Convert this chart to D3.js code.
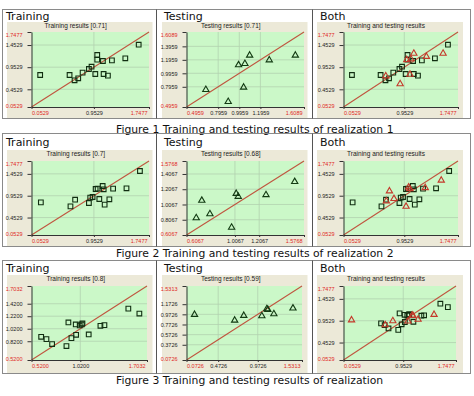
<!DOCTYPE html>
<html>
<head>
<meta charset="utf-8">
<script src="https://cdn.jsdelivr.net/npm/d3@7"></script>
<style>
	body { margin: 0; background: #fff; }
	svg { display: block; }
</style>
</head>
<body>
<script>
const panelNames = ["Training", "Testing", "Both"];
const captions = [
	"Figure 1 Training and testing results of realization 1",
	"Figure 2 Training and testing results of realization 2",
	"Figure 3 Training and testing results of realization",
];
const chartTitles = [
	["Training results [0.71]", "Testing results [0.71]", "Training and testing results"],
	["Training results [0.7]", "Testing results [0.68]", "Training and testing results"],
	["Training results [0.8]", "Testing results [0.59]", "Training and testing results"],
];

// axis ranges (min and max are the red labels)
const fullDomain = [0.0529, 1.7477];
const test1Domain = [0.4959, 1.6089];
const test2Domain = [0.6067, 1.5768];
const train3Domain = [0.52, 1.7032];
const test3Domain = [0.0726, 1.5313];

// inner tick labels
const fullYTicks = [0.4529, 0.9529, 1.4529];
const fullXTicks = [0.9529];
const test1YTicks = [0.7959, 0.9959, 1.1959, 1.3959];
const test1XTicks = [0.7959, 0.9959, 1.1959];
const test2YTicks = [0.8067, 1.0067, 1.2067, 1.4067];
const test2XTicks = [1.0067, 1.2067];
const train3YTicks = [0.82, 1.02, 1.22, 1.42];
const train3XTicks = [1.02];
const test3YTicks = [0.3726, 0.5726, 0.7726, 0.9726, 1.1726];
const test3XTicks = [0.4726, 0.9726];

// [measured, predicted]
const train1 = [[0.178, 0.776], [0.602, 0.776], [0.674, 0.656], [0.727, 0.701], [0.790, 0.829], [0.881, 0.912], [0.919, 0.964], [0.973, 0.799], [1.001, 1.228], [1.001, 1.122], [1.083, 1.092], [1.093, 0.799], [1.155, 0.761], [1.213, 1.107], [1.406, 1.153], [1.599, 1.461]];
const test1 = [[0.679, 0.753], [0.891, 0.575], [0.989, 1.119], [1.049, 1.139], [1.037, 0.788], [1.094, 1.263], [1.280, 1.193], [1.527, 1.263]];
const train2 = [[0.188, 0.801], [0.615, 0.709], [0.682, 0.862], [0.881, 0.786], [0.900, 0.908], [0.934, 0.923], [0.978, 1.106], [1.007, 1.114], [1.031, 0.877], [1.079, 1.175], [1.094, 1.099], [1.108, 0.748], [1.176, 0.870], [1.230, 1.114], [1.423, 1.122], [1.617, 1.519]];
const test2 = [[0.687, 0.831], [0.733, 1.059], [0.800, 0.883], [0.979, 0.706], [1.017, 1.150], [1.034, 1.111], [1.263, 1.133], [1.500, 1.305]];
const train3 = [[0.619, 0.891], [0.673, 0.854], [0.731, 0.775], [0.878, 0.743], [0.898, 1.120], [0.929, 0.870], [0.977, 0.923], [0.973, 1.088], [1.014, 1.072], [1.035, 1.088], [1.042, 1.104], [1.106, 0.929], [1.226, 1.067], [1.267, 1.077], [1.512, 1.342], [1.625, 1.263]];
const test3 = [[0.174, 0.968], [0.681, 0.855], [0.796, 0.948], [1.024, 0.941], [1.087, 1.080], [1.100, 1.067], [1.176, 0.981], [1.417, 1.093]];

const panels = [
	[
		{ domain: fullDomain, xTicks: fullXTicks, yTicks: fullYTicks, train: train1, test: null },
		{ domain: test1Domain, xTicks: test1XTicks, yTicks: test1YTicks, train: null, test: test1 },
		{ domain: fullDomain, xTicks: fullXTicks, yTicks: fullYTicks, train: train1, test: test1 },
	],
	[
		{ domain: fullDomain, xTicks: fullXTicks, yTicks: fullYTicks, train: train2, test: null },
		{ domain: test2Domain, xTicks: test2XTicks, yTicks: test2YTicks, train: null, test: test2 },
		{ domain: fullDomain, xTicks: fullXTicks, yTicks: fullYTicks, train: train2, test: test2 },
	],
	[
		{ domain: train3Domain, xTicks: train3XTicks, yTicks: train3YTicks, train: train3, test: null },
		{ domain: test3Domain, xTicks: test3XTicks, yTicks: test3YTicks, train: null, test: test3 },
		{ domain: fullDomain, xTicks: fullXTicks, yTicks: fullYTicks, train: train3, test: test3 },
	],
];

const rowLayout = [
	{ boxTop: 9.5, boxBot: 118.5, titleY: 19.5, beigeTop: 22, plotTop: 32, plotBot: 107, beigeBot: 118, capY: 132.5, plotShrink: 0 },
	{ boxTop: 133.5, boxBot: 246.5, titleY: 145.5, beigeTop: 150, plotTop: 161, plotBot: 235, beigeBot: 246, capY: 257, plotShrink: 0 },
	{ boxTop: 260.5, boxBot: 373.5, titleY: 272, beigeTop: 275, plotTop: 286, plotBot: 360, beigeBot: 373, capY: 383.5, plotShrink: 2 },
];
const colLayout = [
	{ boxL: 2.5, titleX: 6, beigeL: 7, plotL: 31.5, plotR: 149, beigeR: 152.5 },
	{ boxL: 156.5, titleX: 164, beigeL: 162, plotL: 186.5, plotR: 304, beigeR: 307.5 },
	{ boxL: 312.5, titleX: 320, beigeL: 317, plotL: 343.5, plotR: 458, beigeR: 463 },
];
const boxRight = 470.5;

const fmt = d3.format(".4f");
const smallFont = "'Liberation Sans Narrow', 'Liberation Sans', Arial, sans-serif";

const svg = d3.select("body").append("svg").attr("width", 474).attr("height", 396);
svg.append("rect").attr("width", 474).attr("height", 396).attr("fill", "#fff");

rowLayout.forEach((r, ri) => {
	// row frame
	svg.append("rect")
		.attr("x", colLayout[0].boxL).attr("y", r.boxTop)
		.attr("width", boxRight - colLayout[0].boxL).attr("height", r.boxBot - r.boxTop)
		.attr("fill", "none").attr("stroke", "#8a8a8a");
	colLayout.slice(1).forEach((c) => {
		svg.append("line")
			.attr("x1", c.boxL).attr("x2", c.boxL)
			.attr("y1", r.boxTop).attr("y2", r.boxBot)
			.attr("stroke", "#555");
	});

	colLayout.forEach((c, ci) => {
		const g = svg.append("g");
		drawPanel(g, panels[ri][ci], r, c, chartTitles[ri][ci]);
		g.append("text")
			.attr("x", c.titleX).attr("y", r.titleY)
			.attr("font-family", "'DejaVu Sans', Verdana, sans-serif")
			.attr("font-size", "11px").attr("fill", "#111")
			.text(panelNames[ci]);
	});

	svg.append("text")
		.attr("x", 116).attr("y", r.capY)
		.attr("font-family", "'DejaVu Sans', Verdana, sans-serif")
		.attr("font-size", "10.8px").attr("fill", "#111")
		.text(captions[ri]);
});

function drawPanel(g, cfg, r, c, title) {
	const plotR = c.plotR - r.plotShrink;
	const [lo, hi] = cfg.domain;
	const x = d3.scaleLinear(cfg.domain, [c.plotL, plotR]);
	const y = d3.scaleLinear(cfg.domain, [r.plotBot, r.plotTop]);

	g.append("rect")
		.attr("x", c.beigeL).attr("y", r.beigeTop)
		.attr("width", c.beigeR - c.beigeL).attr("height", r.beigeBot - r.beigeTop)
		.attr("fill", "#ece9d8");

	g.append("text")
		.attr("x", (c.beigeL + c.beigeR) / 2 - 4).attr("y", r.beigeTop + 5.8)
		.attr("text-anchor", "middle")
		.attr("font-family", smallFont).attr("font-size", "6.5px").attr("fill", "#222")
		.text(title);

	g.append("rect")
		.attr("x", c.plotL).attr("y", r.plotTop)
		.attr("width", plotR - c.plotL).attr("height", r.plotBot - r.plotTop)
		.attr("fill", "#cbf8c8");

	// grid
	g.append("g").selectAll("line.h").data(cfg.yTicks).join("line")
		.attr("x1", c.plotL).attr("x2", plotR)
		.attr("y1", (d) => y(d)).attr("y2", (d) => y(d))
		.attr("stroke", "#b2d2b0").attr("stroke-width", 0.8);
	g.append("g").selectAll("line.v").data(cfg.xTicks).join("line")
		.attr("x1", (d) => x(d)).attr("x2", (d) => x(d))
		.attr("y1", r.plotTop).attr("y2", r.plotBot)
		.attr("stroke", "#b2d2b0").attr("stroke-width", 0.8);

	// y = x reference line
	g.append("path")
		.datum([lo, hi])
		.attr("d", d3.line().x((d) => x(d)).y((d) => y(d)))
		.attr("stroke", "#c0553f").attr("stroke-width", 1.1).attr("fill", "none");

	// axes
	const yAxis = g.append("g")
		.attr("transform", `translate(${c.plotL},0)`)
		.call(d3.axisLeft(y).tickValues([lo, ...cfg.yTicks, hi]).tickFormat(fmt)
			.tickSize(4).tickSizeOuter(0).tickPadding(5));
	const xAxis = g.append("g")
		.attr("transform", `translate(0,${r.plotBot})`)
		.call(d3.axisBottom(x).tickValues([lo, ...cfg.xTicks, hi]).tickFormat(fmt)
			.tickSize(2).tickSizeOuter(0).tickPadding(2));

	[yAxis, xAxis].forEach((ax) => {
		ax.select(".domain").attr("stroke", "#333");
		ax.selectAll(".tick line").attr("stroke", "#333");
		ax.selectAll("text")
			.attr("font-family", smallFont).attr("font-size", "5.5px")
			.attr("fill", (d) => (d === lo || d === hi ? "#e0281e" : "#222"));
	});
	yAxis.selectAll(".tick text")
		.attr("dy", (d) => (d === hi ? "0.85em" : d === lo ? "0" : "0.32em"));
	xAxis.selectAll(".tick text")
		.attr("text-anchor", (d) => (d === lo ? "start" : d === hi ? "end" : "middle"))
		.attr("dx", (d) => (d === hi ? -2 : 0));

	// points
	if (cfg.train) {
		g.append("g").selectAll("path").data(cfg.train).join("path")
			.attr("transform", (d) => `translate(${x(d[0])},${y(d[1])})`)
			.attr("d", d3.symbol().type(d3.symbolSquare).size(22))
			.attr("fill", "none").attr("stroke", "#112e11").attr("stroke-width", 1.1);
	}
	if (cfg.test) {
		const both = !!cfg.train;
		g.append("g").selectAll("path").data(cfg.test).join("path")
			.attr("transform", (d) => `translate(${x(d[0])},${y(d[1])})`)
			.attr("d", d3.symbol().type(d3.symbolTriangle).size(17))
			.attr("fill", "none").attr("stroke", both ? "#c4392a" : "#123a12").attr("stroke-width", 1.1);
	}
}
</script>
</body>
</html>
